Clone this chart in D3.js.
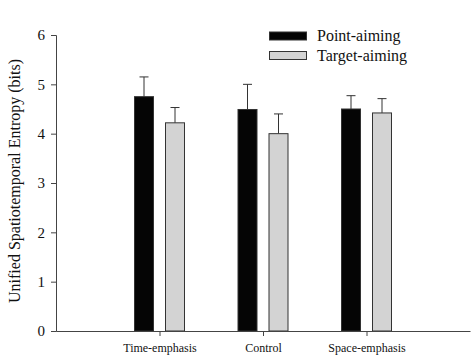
<!DOCTYPE html>
<html><head><meta charset="utf-8">
<script src="https://cdn.jsdelivr.net/npm/d3@7"></script>
<style>body{margin:0;background:#fff}svg{display:block}</style>
</head><body>
<script>
const categories = ["Time-emphasis", "Control", "Space-emphasis"];
const seriesNames = ["Point-aiming", "Target-aiming"];
const pointAiming = [4.75, 4.49, 4.50];
const pointAimingErr = [0.40, 0.51, 0.27];
const targetAiming = [4.22, 4.00, 4.42];
const targetAimingErr = [0.31, 0.40, 0.29];
const yTicks = [0, 1, 2, 3, 4, 5, 6];
const colors = ["#050505", "#d3d3d3"];
const FONT = "'Liberation Serif', 'Times New Roman', Times, serif";

const W = 474, H = 364;
const m = {left: 56, right: 4, top: 35, bottom: 33};
const svg = d3.select("body").append("svg").attr("width", W).attr("height", H);
const x = d3.scalePoint().domain(categories).range([m.left, W - m.right]).padding(1);
const y = d3.scaleLinear().domain([0, 6]).range([H - m.bottom, m.top]);
const offset = d3.scalePoint().domain(seriesNames).range([-15.5, 15.5]);
const bw = 19;

const data = [];
categories.forEach((c, i) => {
  data.push({c, s: seriesNames[0], v: pointAiming[i], e: pointAimingErr[i], col: colors[0]});
  data.push({c, s: seriesNames[1], v: targetAiming[i], e: targetAimingErr[i], col: colors[1]});
});

const g = svg.append("g");
data.forEach(d => {
  const cx = x(d.c) + offset(d.s);
  g.append("line").attr("x1", cx).attr("x2", cx).attr("y1", y(d.v)).attr("y2", y(d.v + d.e)).attr("stroke", "#333").attr("stroke-width", 1);
  g.append("line").attr("x1", cx - 4.5).attr("x2", cx + 4.5).attr("y1", y(d.v + d.e)).attr("y2", y(d.v + d.e)).attr("stroke", "#333").attr("stroke-width", 1);
});
g.selectAll("rect.bar").data(data).join("rect").attr("class", "bar")
  .attr("x", d => x(d.c) + offset(d.s) - bw / 2)
  .attr("width", bw)
  .attr("y", d => y(d.v))
  .attr("height", d => y(0) - y(d.v))
  .attr("fill", d => d.col)
  .attr("stroke", "#333").attr("stroke-width", 1);

const yAxis = svg.append("g").attr("transform", `translate(${m.left},0)`)
  .call(d3.axisLeft(y).tickValues(yTicks).tickFormat(d3.format("d")).tickSize(5).tickPadding(6));
yAxis.attr("font-family", FONT);
yAxis.select(".domain").attr("stroke", "#444");
yAxis.selectAll(".tick line").attr("stroke", "#444");
yAxis.selectAll("text").style("font-family", FONT).style("font-size", "15px").attr("fill", "#111");

const xAxis = svg.append("g").attr("transform", `translate(0,${H - m.bottom})`)
  .call(d3.axisBottom(x).tickSize(5).tickSizeOuter(0).tickPadding(7));
xAxis.attr("font-family", FONT);
xAxis.select(".domain").attr("stroke", "#444");
xAxis.selectAll(".tick line").attr("stroke", "#444");
xAxis.selectAll("text").style("font-family", FONT).style("font-size", "12px").attr("fill", "#111");

svg.append("text").attr("transform", `translate(20,${(y(0) + y(6)) / 2 - 2}) rotate(-90)`)
  .attr("text-anchor", "middle").style("font-family", FONT).style("font-size", "16px").attr("fill", "#111")
  .text("Unified Spatiotemporal Entropy (bits)");

const lg = svg.append("g");
seriesNames.forEach((s, i) => {
  const yy = 32 + i * 19.5;
  lg.append("rect").attr("x", 269.5).attr("y", yy).attr("width", 37).attr("height", 8)
    .attr("fill", colors[i]).attr("stroke", "#333").attr("stroke-width", 1);
  lg.append("text").attr("x", 317).attr("y", yy + 9).style("font-family", FONT).style("font-size", "16px").attr("fill", "#111").text(s);
});
</script>
</body></html>
